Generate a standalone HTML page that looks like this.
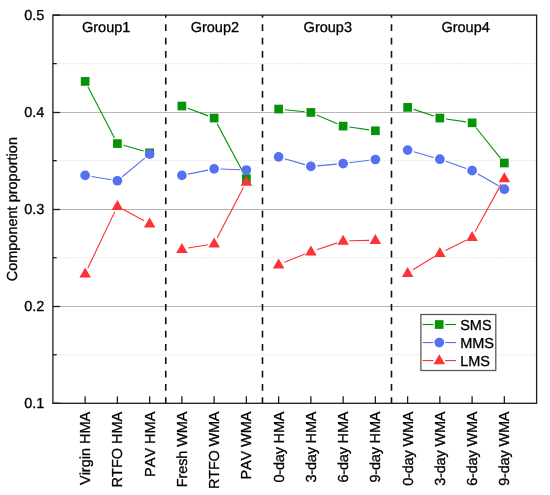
<!DOCTYPE html>
<html><head><meta charset="utf-8"><title>Component proportion</title>
<style>html,body{margin:0;padding:0;background:#fff}svg{display:block}text{font-kerning:none;text-rendering:geometricPrecision;stroke:#000;stroke-width:.3px}</style></head>
<body>
<svg width="550" height="495" viewBox="0 0 550 495" font-family="'Liberation Sans', sans-serif" font-size="14.5px" fill="#000">
<rect width="550" height="495" fill="#fff"/>
<line x1="52.9" x2="536.6" y1="306.50" y2="306.50" stroke="#b6b6b6" stroke-width="1.15"/>
<line x1="52.9" x2="536.6" y1="209.50" y2="209.50" stroke="#b6b6b6" stroke-width="1.15"/>
<line x1="52.9" x2="536.6" y1="112.50" y2="112.50" stroke="#b6b6b6" stroke-width="1.15"/>
<line x1="56.9" x2="536.6" y1="354.77" y2="354.77" stroke="#e0e0e0" stroke-width="1" stroke-dasharray="1.35 1.35"/>
<line x1="56.9" x2="536.6" y1="257.72" y2="257.72" stroke="#e0e0e0" stroke-width="1" stroke-dasharray="1.35 1.35"/>
<line x1="56.9" x2="536.6" y1="160.67" y2="160.67" stroke="#e0e0e0" stroke-width="1" stroke-dasharray="1.35 1.35"/>
<line x1="56.9" x2="536.6" y1="63.62" y2="63.62" stroke="#e0e0e0" stroke-width="1" stroke-dasharray="1.35 1.35"/>
<line x1="165.76" x2="165.76" y1="15.1" y2="403.3" stroke="#111" stroke-width="1.6" stroke-dasharray="6.8 6.52" stroke-dashoffset="4.1"/>
<line x1="262.50" x2="262.50" y1="15.1" y2="403.3" stroke="#111" stroke-width="1.6" stroke-dasharray="6.8 6.52" stroke-dashoffset="4.1"/>
<line x1="391.49" x2="391.49" y1="15.1" y2="403.3" stroke="#111" stroke-width="1.6" stroke-dasharray="6.8 6.52" stroke-dashoffset="4.1"/>
<line x1="88.05" y1="86.98" x2="114.49" y2="138.00" stroke="#089208" stroke-width="1.12"/>
<line x1="123.45" y1="145.33" x2="143.58" y2="151.08" stroke="#089208" stroke-width="1.12"/>
<line x1="187.79" y1="108.24" x2="208.23" y2="115.87" stroke="#089208" stroke-width="1.12"/>
<line x1="217.09" y1="123.63" x2="243.42" y2="173.07" stroke="#089208" stroke-width="1.12"/>
<line x1="284.89" y1="109.70" x2="304.61" y2="111.78" stroke="#089208" stroke-width="1.12"/>
<line x1="316.67" y1="114.90" x2="337.32" y2="123.66" stroke="#089208" stroke-width="1.12"/>
<line x1="349.36" y1="127.03" x2="369.13" y2="129.88" stroke="#089208" stroke-width="1.12"/>
<line x1="413.59" y1="109.37" x2="433.88" y2="116.09" stroke="#089208" stroke-width="1.12"/>
<line x1="446.09" y1="118.99" x2="465.87" y2="121.91" stroke="#089208" stroke-width="1.12"/>
<line x1="476.05" y1="127.74" x2="500.41" y2="158.09" stroke="#089208" stroke-width="1.12"/>
<rect x="80.80" y="77.04" width="8.7" height="8.7" fill="#089208"/>
<rect x="113.04" y="139.24" width="8.7" height="8.7" fill="#089208"/>
<rect x="145.29" y="148.46" width="8.7" height="8.7" fill="#089208"/>
<rect x="177.54" y="101.69" width="8.7" height="8.7" fill="#089208"/>
<rect x="209.78" y="113.72" width="8.7" height="8.7" fill="#089208"/>
<rect x="242.03" y="174.28" width="8.7" height="8.7" fill="#089208"/>
<rect x="274.28" y="104.69" width="8.7" height="8.7" fill="#089208"/>
<rect x="306.52" y="108.09" width="8.7" height="8.7" fill="#089208"/>
<rect x="338.77" y="121.78" width="8.7" height="8.7" fill="#089208"/>
<rect x="371.02" y="126.43" width="8.7" height="8.7" fill="#089208"/>
<rect x="403.26" y="103.04" width="8.7" height="8.7" fill="#089208"/>
<rect x="435.51" y="113.72" width="8.7" height="8.7" fill="#089208"/>
<rect x="467.76" y="118.48" width="8.7" height="8.7" fill="#089208"/>
<rect x="500.00" y="158.65" width="8.7" height="8.7" fill="#089208"/>
<line x1="91.36" y1="176.46" x2="111.18" y2="179.74" stroke="#5671f0" stroke-width="1.12"/>
<line x1="122.25" y1="176.75" x2="144.79" y2="158.09" stroke="#5671f0" stroke-width="1.12"/>
<line x1="188.06" y1="174.16" x2="207.96" y2="170.09" stroke="#5671f0" stroke-width="1.12"/>
<line x1="220.43" y1="169.05" x2="240.08" y2="169.76" stroke="#5671f0" stroke-width="1.12"/>
<line x1="284.67" y1="158.67" x2="304.83" y2="164.62" stroke="#5671f0" stroke-width="1.12"/>
<line x1="317.15" y1="165.85" x2="336.84" y2="164.13" stroke="#5671f0" stroke-width="1.12"/>
<line x1="349.37" y1="162.80" x2="369.12" y2="160.30" stroke="#5671f0" stroke-width="1.12"/>
<line x1="413.68" y1="151.81" x2="433.80" y2="157.50" stroke="#5671f0" stroke-width="1.12"/>
<line x1="445.80" y1="161.33" x2="466.17" y2="168.56" stroke="#5671f0" stroke-width="1.12"/>
<line x1="477.57" y1="173.81" x2="498.89" y2="186.07" stroke="#5671f0" stroke-width="1.12"/>
<circle cx="85.15" cy="175.43" r="4.85" fill="#5671f0"/>
<circle cx="117.39" cy="180.76" r="4.85" fill="#5671f0"/>
<circle cx="149.64" cy="154.08" r="4.85" fill="#5671f0"/>
<circle cx="181.89" cy="175.43" r="4.85" fill="#5671f0"/>
<circle cx="214.13" cy="168.83" r="4.85" fill="#5671f0"/>
<circle cx="246.38" cy="169.99" r="4.85" fill="#5671f0"/>
<circle cx="278.63" cy="156.89" r="4.85" fill="#5671f0"/>
<circle cx="310.87" cy="166.40" r="4.85" fill="#5671f0"/>
<circle cx="343.12" cy="163.59" r="4.85" fill="#5671f0"/>
<circle cx="375.37" cy="159.51" r="4.85" fill="#5671f0"/>
<circle cx="407.61" cy="150.10" r="4.85" fill="#5671f0"/>
<circle cx="439.86" cy="159.22" r="4.85" fill="#5671f0"/>
<circle cx="472.11" cy="170.67" r="4.85" fill="#5671f0"/>
<circle cx="504.35" cy="189.21" r="4.85" fill="#5671f0"/>
<line x1="87.86" y1="268.05" x2="114.68" y2="211.88" stroke="#fb3236" stroke-width="1.12"/>
<line x1="122.93" y1="209.19" x2="144.10" y2="220.66" stroke="#fb3236" stroke-width="1.12"/>
<line x1="188.10" y1="248.04" x2="207.92" y2="244.70" stroke="#fb3236" stroke-width="1.12"/>
<line x1="217.05" y1="238.07" x2="243.46" y2="187.51" stroke="#fb3236" stroke-width="1.12"/>
<line x1="284.48" y1="262.27" x2="305.02" y2="254.05" stroke="#fb3236" stroke-width="1.12"/>
<line x1="316.84" y1="249.70" x2="337.15" y2="242.85" stroke="#fb3236" stroke-width="1.12"/>
<line x1="349.42" y1="240.72" x2="369.07" y2="240.37" stroke="#fb3236" stroke-width="1.12"/>
<line x1="412.98" y1="269.76" x2="434.49" y2="256.56" stroke="#fb3236" stroke-width="1.12"/>
<line x1="445.49" y1="250.43" x2="466.48" y2="239.88" stroke="#fb3236" stroke-width="1.12"/>
<line x1="475.14" y1="231.53" x2="501.32" y2="183.86" stroke="#fb3236" stroke-width="1.12"/>
<path d="M85.15 267.57L90.90 277.57L79.40 277.57Z" fill="#fb3236"/>
<path d="M117.39 200.02L123.14 210.02L111.64 210.02Z" fill="#fb3236"/>
<path d="M149.64 217.49L155.39 227.49L143.89 227.49Z" fill="#fb3236"/>
<path d="M181.89 242.92L187.64 252.92L176.14 252.92Z" fill="#fb3236"/>
<path d="M214.13 237.49L219.88 247.49L208.38 247.49Z" fill="#fb3236"/>
<path d="M246.38 175.76L252.13 185.76L240.63 185.76Z" fill="#fb3236"/>
<path d="M278.63 258.45L284.38 268.45L272.88 268.45Z" fill="#fb3236"/>
<path d="M310.87 245.54L316.62 255.54L305.12 255.54Z" fill="#fb3236"/>
<path d="M343.12 234.67L348.87 244.67L337.37 244.67Z" fill="#fb3236"/>
<path d="M375.37 234.09L381.12 244.09L369.62 244.09Z" fill="#fb3236"/>
<path d="M407.61 266.89L413.36 276.89L401.86 276.89Z" fill="#fb3236"/>
<path d="M439.86 247.09L445.61 257.09L434.11 257.09Z" fill="#fb3236"/>
<path d="M472.11 230.89L477.86 240.89L466.36 240.89Z" fill="#fb3236"/>
<path d="M504.35 172.17L510.10 182.17L498.60 182.17Z" fill="#fb3236"/>
<rect x="52.9" y="15.1" width="483.70000000000005" height="388.2" fill="none" stroke="#1c1c1c" stroke-width="1.3"/>
<line x1="52.9" x2="60.199999999999996" y1="403.30" y2="403.30" stroke="#1c1c1c" stroke-width="1.3"/>
<text x="44.3" y="407.70" text-anchor="end">0.1</text>
<line x1="52.9" x2="60.199999999999996" y1="306.50" y2="306.50" stroke="#1c1c1c" stroke-width="1.3"/>
<text x="44.3" y="310.90" text-anchor="end">0.2</text>
<line x1="52.9" x2="60.199999999999996" y1="209.50" y2="209.50" stroke="#1c1c1c" stroke-width="1.3"/>
<text x="44.3" y="213.90" text-anchor="end">0.3</text>
<line x1="52.9" x2="60.199999999999996" y1="112.50" y2="112.50" stroke="#1c1c1c" stroke-width="1.3"/>
<text x="44.3" y="116.90" text-anchor="end">0.4</text>
<line x1="52.9" x2="60.199999999999996" y1="15.10" y2="15.10" stroke="#1c1c1c" stroke-width="1.3"/>
<text x="44.3" y="19.50" text-anchor="end">0.5</text>
<line x1="52.9" x2="56.699999999999996" y1="354.77" y2="354.77" stroke="#1c1c1c" stroke-width="1.3"/>
<line x1="52.9" x2="56.699999999999996" y1="257.72" y2="257.72" stroke="#1c1c1c" stroke-width="1.3"/>
<line x1="52.9" x2="56.699999999999996" y1="160.67" y2="160.67" stroke="#1c1c1c" stroke-width="1.3"/>
<line x1="52.9" x2="56.699999999999996" y1="63.62" y2="63.62" stroke="#1c1c1c" stroke-width="1.3"/>
<line x1="85.15" x2="85.15" y1="403.3" y2="396.3" stroke="#1c1c1c" stroke-width="1.3"/>
<text transform="translate(90.05 411.7) rotate(-90)" text-anchor="end">Virgin HMA</text>
<line x1="117.39" x2="117.39" y1="403.3" y2="396.3" stroke="#1c1c1c" stroke-width="1.3"/>
<text transform="translate(122.29 411.7) rotate(-90)" text-anchor="end">RTFO HMA</text>
<line x1="149.64" x2="149.64" y1="403.3" y2="396.3" stroke="#1c1c1c" stroke-width="1.3"/>
<text transform="translate(154.54 411.7) rotate(-90)" text-anchor="end">PAV HMA</text>
<line x1="181.89" x2="181.89" y1="403.3" y2="396.3" stroke="#1c1c1c" stroke-width="1.3"/>
<text transform="translate(186.79 411.7) rotate(-90)" text-anchor="end" letter-spacing="-0.11">Fresh WMA</text>
<line x1="214.13" x2="214.13" y1="403.3" y2="396.3" stroke="#1c1c1c" stroke-width="1.3"/>
<text transform="translate(219.03 411.7) rotate(-90)" text-anchor="end" letter-spacing="-0.2">RTFO WMA</text>
<line x1="246.38" x2="246.38" y1="403.3" y2="396.3" stroke="#1c1c1c" stroke-width="1.3"/>
<text transform="translate(251.28 411.7) rotate(-90)" text-anchor="end" letter-spacing="-0.08">PAV WMA</text>
<line x1="278.63" x2="278.63" y1="403.3" y2="396.3" stroke="#1c1c1c" stroke-width="1.3"/>
<text transform="translate(283.53 411.7) rotate(-90)" text-anchor="end" letter-spacing="-0.18">0-day HMA</text>
<line x1="310.87" x2="310.87" y1="403.3" y2="396.3" stroke="#1c1c1c" stroke-width="1.3"/>
<text transform="translate(315.77 411.7) rotate(-90)" text-anchor="end" letter-spacing="-0.18">3-day HMA</text>
<line x1="343.12" x2="343.12" y1="403.3" y2="396.3" stroke="#1c1c1c" stroke-width="1.3"/>
<text transform="translate(348.02 411.7) rotate(-90)" text-anchor="end" letter-spacing="-0.18">6-day HMA</text>
<line x1="375.37" x2="375.37" y1="403.3" y2="396.3" stroke="#1c1c1c" stroke-width="1.3"/>
<text transform="translate(380.27 411.7) rotate(-90)" text-anchor="end" letter-spacing="-0.18">9-day HMA</text>
<line x1="407.61" x2="407.61" y1="403.3" y2="396.3" stroke="#1c1c1c" stroke-width="1.3"/>
<text transform="translate(412.51 411.7) rotate(-90)" text-anchor="end" letter-spacing="-0.18">0-day WMA</text>
<line x1="439.86" x2="439.86" y1="403.3" y2="396.3" stroke="#1c1c1c" stroke-width="1.3"/>
<text transform="translate(444.76 411.7) rotate(-90)" text-anchor="end" letter-spacing="-0.18">3-day WMA</text>
<line x1="472.11" x2="472.11" y1="403.3" y2="396.3" stroke="#1c1c1c" stroke-width="1.3"/>
<text transform="translate(477.01 411.7) rotate(-90)" text-anchor="end" letter-spacing="-0.18">6-day WMA</text>
<line x1="504.35" x2="504.35" y1="403.3" y2="396.3" stroke="#1c1c1c" stroke-width="1.3"/>
<text transform="translate(509.25 411.7) rotate(-90)" text-anchor="end" letter-spacing="-0.18">9-day WMA</text>
<text x="106.2" y="31.8" text-anchor="middle">Group1</text>
<text x="214.9" y="31.8" text-anchor="middle">Group2</text>
<text x="327.8" y="31.8" text-anchor="middle">Group3</text>
<text x="465.6" y="31.8" text-anchor="middle">Group4</text>
<text transform="translate(16.8 209.2) rotate(-90)" text-anchor="middle">Component proportion</text>
<rect x="420.9" y="314.5" width="74.9" height="56" fill="#fff" stroke="#555" stroke-width="1.25"/>
<line x1="422.6" x2="433.5" y1="324.50" y2="324.50" stroke="#089208" stroke-width="1.12"/>
<line x1="445.1" x2="456" y1="324.50" y2="324.50" stroke="#089208" stroke-width="1.12"/>
<rect x="434.85" y="320.15" width="8.7" height="8.7" fill="#089208"/>
<text x="460.2" y="329.60">SMS</text>
<line x1="422.6" x2="433.5" y1="342.53" y2="342.53" stroke="#5671f0" stroke-width="1.12"/>
<line x1="445.1" x2="456" y1="342.53" y2="342.53" stroke="#5671f0" stroke-width="1.12"/>
<circle cx="439.30" cy="342.53" r="4.85" fill="#5671f0"/>
<text x="460.2" y="347.63">MMS</text>
<line x1="422.6" x2="433.5" y1="360.56" y2="360.56" stroke="#fb3236" stroke-width="1.12"/>
<line x1="445.1" x2="456" y1="360.56" y2="360.56" stroke="#fb3236" stroke-width="1.12"/>
<path d="M439.30 354.29L445.05 364.29L433.55 364.29Z" fill="#fb3236"/>
<text x="460.2" y="365.66">LMS</text>
</svg>
</body></html>
